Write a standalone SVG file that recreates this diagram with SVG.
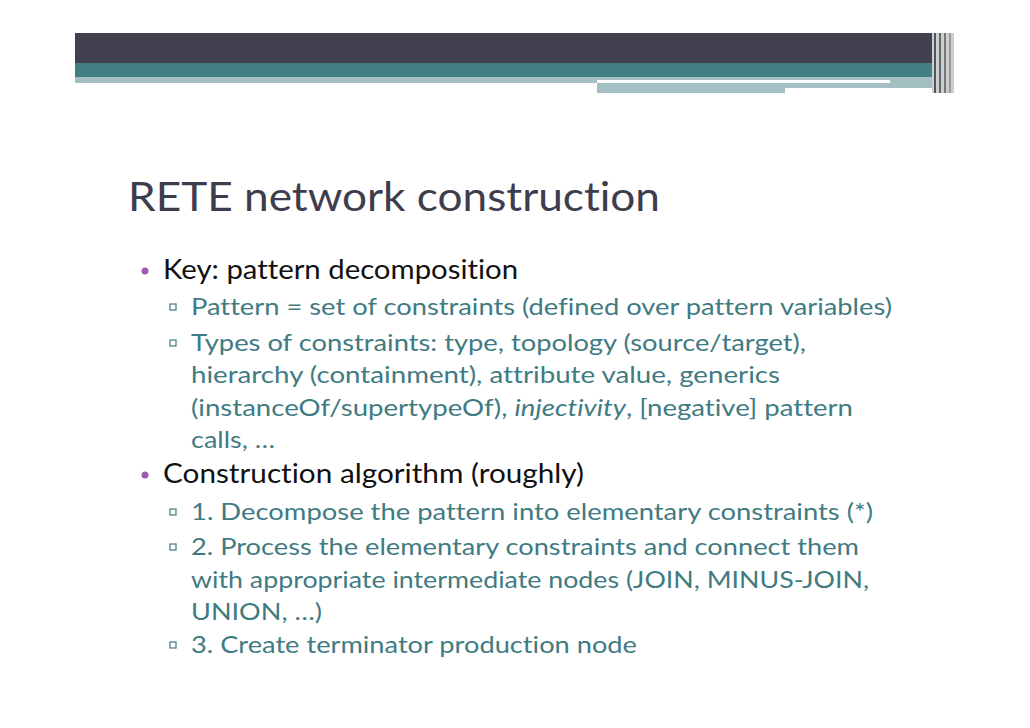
<svg xmlns="http://www.w3.org/2000/svg" width="1030" height="728" viewBox="0 0 1030 728">
<style>
text{font-family:Lato,"Open Sans","Liberation Sans",sans-serif;font-variant-ligatures:none}
.t{font-size:41px;fill:#3d3d4e}
.b{font-size:26px;fill:#111}
.s{font-size:23px;fill:#3f7b82}
.dot{fill:#a05ab0}
.sq{fill:none;stroke:#3f7b82;stroke-width:1.2}
</style>
<rect width="1030" height="728" fill="#fff"/>
<g id="header">
<rect x="75" y="33" width="857" height="30" fill="#41414f"/>
<rect x="75" y="63" width="857" height="14" fill="#437e83"/>
<rect x="75" y="77" width="522" height="6" fill="#a3bfc2"/>
<rect x="597" y="77" width="335" height="16" fill="#a3bfc2"/>
<rect x="597" y="80" width="293" height="3" fill="#fff"/>
<rect x="785" y="88" width="147" height="5" fill="#fff"/>
<rect x="932" y="33" width="22" height="60" fill="#c9cfd3"/>
<rect x="934" y="33" width="2" height="60" fill="#555"/>
<rect x="939" y="33" width="2" height="60" fill="#666"/>
<rect x="944" y="33" width="2" height="60" fill="#777"/>
<rect x="949" y="33" width="2" height="60" fill="#999"/>
</g>
<text class="t" x="128" y="211" textLength="532" lengthAdjust="spacingAndGlyphs">RETE network construction</text>
<circle class="dot" cx="145" cy="271" r="3.5"/>
<text class="b" x="163" y="279" textLength="355" lengthAdjust="spacingAndGlyphs">Key: pattern decomposition</text>
<rect class="sq" x="170" y="304" width="6" height="6"/>
<text class="s" x="191" y="315" textLength="701" lengthAdjust="spacingAndGlyphs">Pattern = set of constraints (defined over pattern variables)</text>
<rect class="sq" x="170" y="340" width="6" height="6"/>
<text class="s" x="191" y="351" textLength="615" lengthAdjust="spacingAndGlyphs">Types of constraints: type, topology (source/target),</text>
<text class="s" x="191" y="383" textLength="589" lengthAdjust="spacingAndGlyphs">hierarchy (containment), attribute value, generics</text>
<text class="s" x="191" y="416" textLength="662" lengthAdjust="spacingAndGlyphs">(instanceOf/supertypeOf), <tspan font-style="italic">injectivity</tspan>, [negative] pattern</text>
<text class="s" x="191" y="448" textLength="84" lengthAdjust="spacingAndGlyphs">calls, …</text>
<circle class="dot" cx="145" cy="475" r="3.5"/>
<text class="b" x="163" y="483" textLength="421" lengthAdjust="spacingAndGlyphs">Construction algorithm (roughly)</text>
<rect class="sq" x="170" y="509" width="6" height="6"/>
<text class="s" x="191" y="520" textLength="682" lengthAdjust="spacingAndGlyphs">1. Decompose the pattern into elementary constraints (*)</text>
<rect class="sq" x="170" y="544" width="6" height="6"/>
<text class="s" x="191" y="555" textLength="668" lengthAdjust="spacingAndGlyphs">2. Process the elementary constraints and connect them</text>
<text class="s" x="191" y="588" textLength="678" lengthAdjust="spacingAndGlyphs">with appropriate intermediate nodes (JOIN, MINUS-JOIN,</text>
<text class="s" x="191" y="620" textLength="131" lengthAdjust="spacingAndGlyphs">UNION, …)</text>
<rect class="sq" x="170" y="642" width="6" height="6"/>
<text class="s" x="191" y="653" textLength="446" lengthAdjust="spacingAndGlyphs">3. Create terminator production node</text>
</svg>
